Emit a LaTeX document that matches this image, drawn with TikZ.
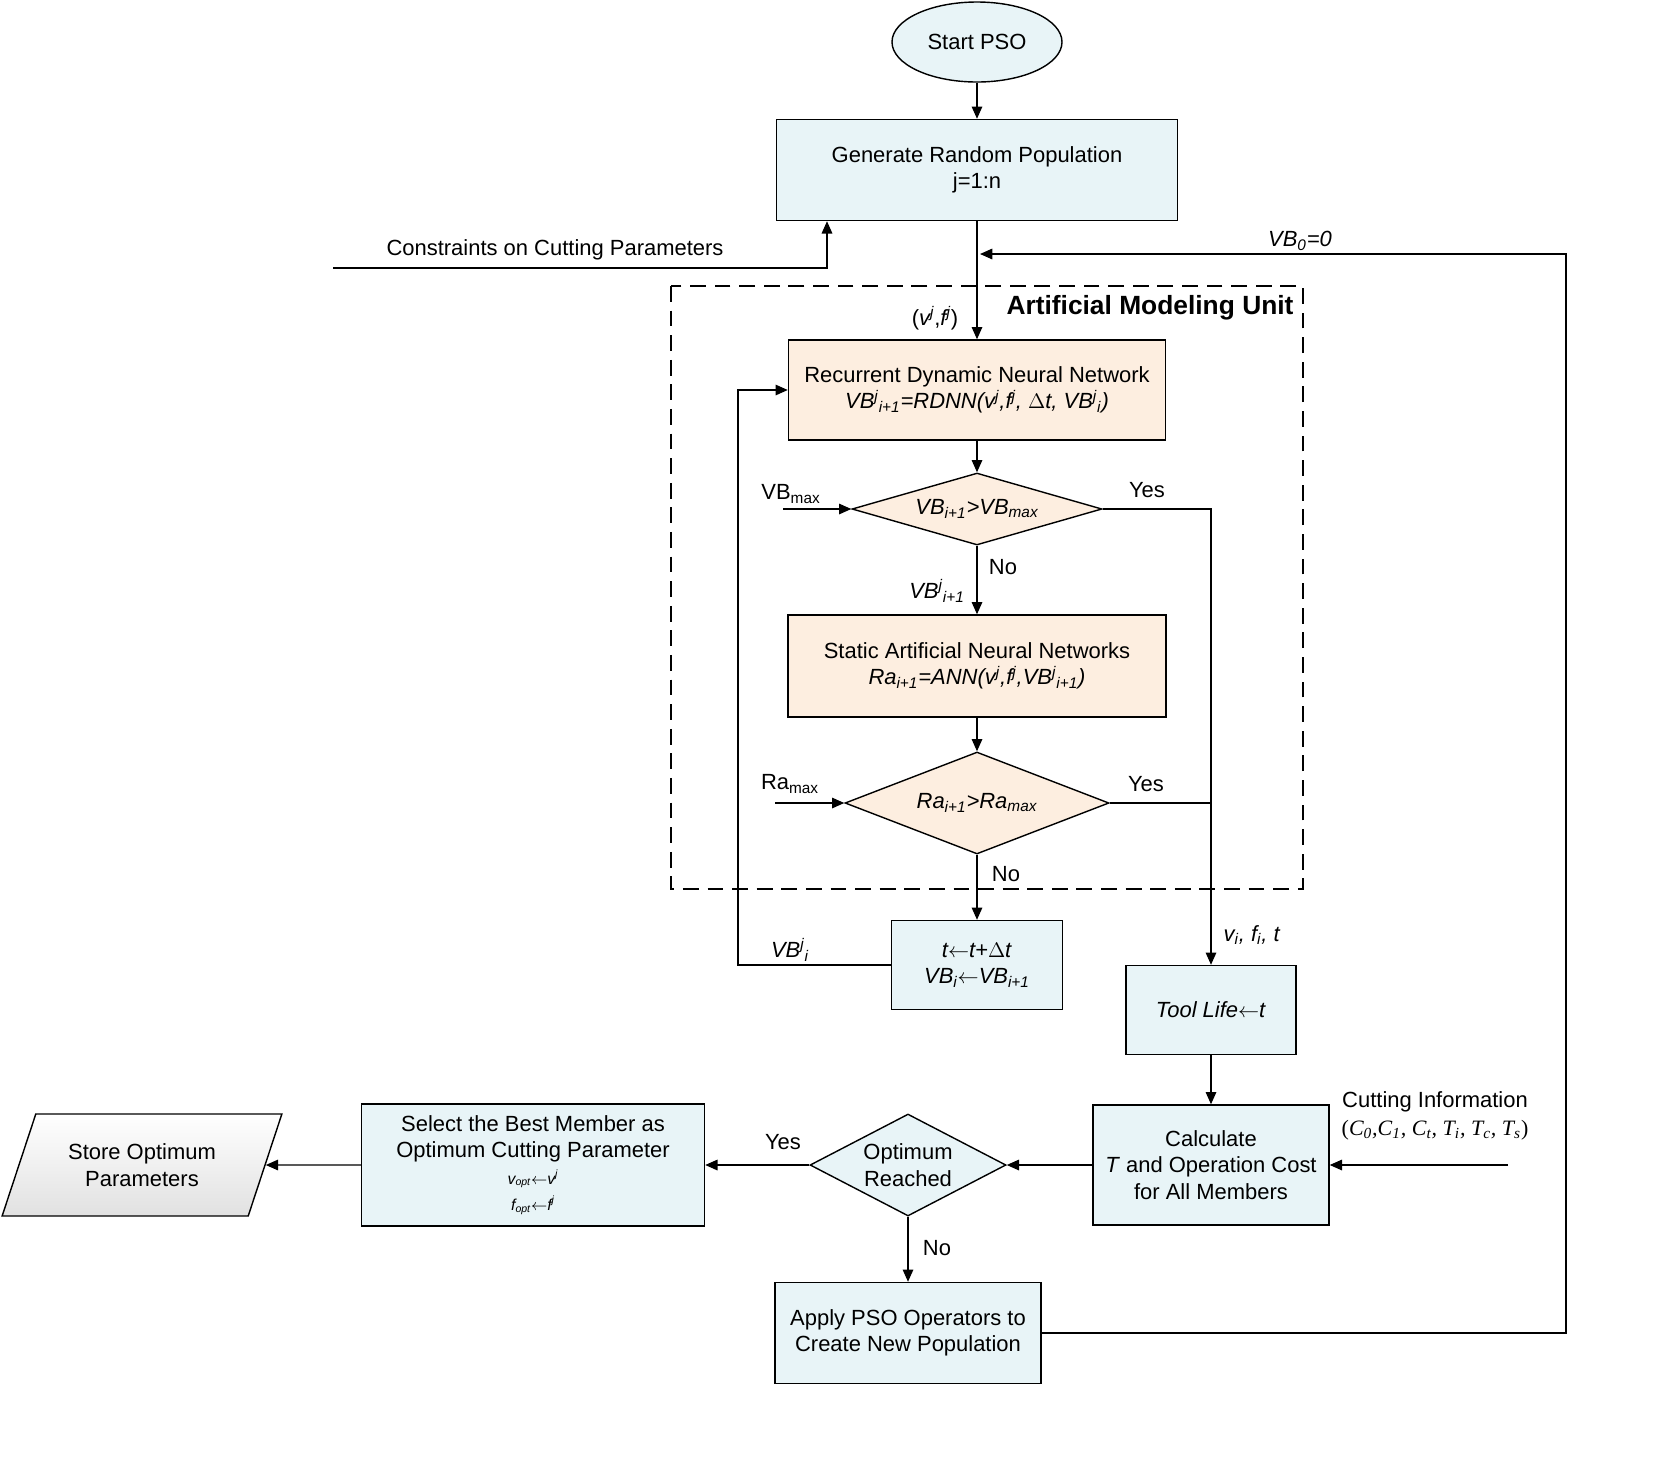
\documentclass[tikz,border=0pt]{standalone}
\usepackage{fontspec}
\setmainfont{Liberation Sans}
\newfontfamily\tms{Liberation Serif}
\usetikzlibrary{shapes.geometric,arrows.meta}

\newcommand{\lo}[1]{\textsubscript{#1}}
\newcommand{\hi}[1]{\textsuperscript{#1}}

\tikzset{
  every node/.style={font=\fontsize{12.5}{15}\selectfont},
  blk/.style={draw, thick, fill=blueF, align=center, inner sep=2pt},
  ann/.style={draw, thick, fill=orangeF, align=center, inner sep=2pt},
  dec/.style={draw, thick, diamond, aspect=2.5, inner sep=0pt, align=center},
  lbl/.style={inner sep=1pt},
  flow/.style={thick, -{Triangle[length=7pt,width=6pt]}},
  line/.style={thick}
}
\definecolor{blueF}{RGB}{232,244,247}
\definecolor{orangeF}{RGB}{253,238,224}
\definecolor{grayF}{RGB}{225,225,225}

\begin{document}
\begin{tikzpicture}[x=0.02cm, y=-0.02cm]  % one unit = one pixel of the reference
    \useasboundingbox (0,0) rectangle (1654,1465);

    % Main blocks
    \node[draw, thick, ellipse, fill=blueF, minimum width=170*0.02cm, minimum height=80*0.02cm] (start) at (977,42) {Start PSO};
    \node[blk, minimum width=401*0.02cm, minimum height=101*0.02cm] (gen) at (977,170) {Generate Random Population\\j=1:n};
    \node[ann, minimum width=377*0.02cm, minimum height=100*0.02cm] (rdnn) at (977,390) {Recurrent Dynamic Neural Network\\ \textit{VB\hi{j}\lo{i+1}=RDNN(v\hi{j},f\hi{j}, $\Delta$t, VB\hi{j}\lo{i})}};
    \node[dec, fill=orangeF, minimum width=250*0.02cm, minimum height=72*0.02cm] (vbdec) at (977,509) {\textit{VB\lo{i+1}>VB\lo{max}}};
    \node[ann, minimum width=378*0.02cm, minimum height=102*0.02cm] (sann) at (977,666) {Static Artificial Neural Networks\\ \textit{Ra\lo{i+1}=ANN(v\hi{j},f\hi{j},VB\hi{j}\lo{i+1})}};
    \node[dec, fill=orangeF, minimum width=264*0.02cm, minimum height=102*0.02cm] (radec) at (977,803) {\textit{Ra\lo{i+1}>Ra\lo{max}}};
    \node[blk, minimum width=171*0.02cm, minimum height=89*0.02cm] (tupd) at (977,965) {\textit{t$\leftarrow$t+$\Delta$t}\\ \textit{VB\lo{i}$\leftarrow$VB\lo{i+1}}};
    \node[blk, minimum width=170*0.02cm, minimum height=89*0.02cm] (tlife) at (1211,1010) {\textit{Tool Life$\leftarrow$t}};
    \node[blk, minimum width=236*0.02cm, minimum height=120*0.02cm] (calc) at (1211,1165) {Calculate\\ \textit{T} and Operation Cost\\for All Members};
    \node[dec, aspect=1.9, fill=blueF, minimum width=196*0.02cm, minimum height=102*0.02cm] (optdec) at (908,1165) {Optimum\\Reached};
    \node[blk, minimum width=343*0.02cm, minimum height=122*0.02cm] (sel) at (533,1165) {Select the Best Member as\\Optimum Cutting Parameter\\ \textit{\small v\lo{opt}$\leftarrow$v\hi{j}}\\ \textit{\small f\lo{opt}$\leftarrow$f\hi{j}}};
    \node[draw, thick, trapezium, trapezium left angle=65, trapezium right angle=115, trapezium stretches=true,
          top color=white, bottom color=grayF, align=center, minimum width=280*0.02cm, minimum height=102*0.02cm] (store) at (142,1165) {Store Optimum\\Parameters};
    \node[blk, minimum width=266*0.02cm, minimum height=101*0.02cm] (apso) at (908,1333) {Apply PSO Operators to\\Create New Population};

    % Modeling unit frame
    \draw[thick, dashed, dash pattern=on 9pt off 5pt] (671,286) rectangle (1303,889);
    \node[lbl, font=\fontsize{15}{18}\selectfont\bfseries] (amu) at (1150,308) {Artificial Modeling Unit};

    % Free ends
    \coordinate (cin) at (333,268);
    \coordinate (cup) at (827,268);
    \coordinate (vbin) at (783,509);
    \coordinate (rain) at (775,803);
    \coordinate (ciin) at (1508,1165);
    \coordinate (vbz) at (980,254);

    % Connectors
    \draw[flow] (start) -- (gen);
    \draw[flow] (gen) -- (rdnn);
    \draw[flow] (cin) -- (cup) -- (cup |- gen.south);
    \draw[flow] (apso.east) -| (1566,254) -- (vbz);
    \draw[flow] (rdnn) -- (vbdec);
    \draw[flow] (vbin) -- (vbdec.west);
    \draw[flow] (vbdec) -- (sann);
    \draw[flow] (sann) -- (radec);
    \draw[flow] (rain) -- (radec.west);
    \draw[flow] (radec) -- (tupd);
    \draw[flow] (vbdec.east) -| (tlife.north);
    \draw[line] (radec.east) -- (1211,803);
    \draw[flow] (tupd.west) -| (738,390) -- (rdnn.west);
    \draw[flow] (tlife) -- (calc);
    \draw[flow] (ciin) -- (calc.east);
    \draw[flow] (calc) -- (optdec);
    \draw[flow] (optdec) -- (sel);
    \draw[flow] (sel) -- (store);
    \draw[flow] (optdec) -- (apso);

    % Labels
    \node[lbl] at (555,250) {Constraints on Cutting Parameters};
    \node[lbl] at (1300,241) {\textit{VB\lo{0}=0}};
    \node[lbl] at (935,318) {(\textit{v\hi{j}},\textit{f\hi{j}})};
    \node[lbl] at (791,494) {VB\lo{max}};
    \node[lbl] at (1147,490) {Yes};
    \node[lbl] at (1003,567) {No};
    \node[lbl] at (937,591) {\textit{VB\hi{j}\lo{i+1}}};
    \node[lbl] at (790,784) {Ra\lo{max}};
    \node[lbl] at (1146,784) {Yes};
    \node[lbl] at (1006,874) {No};
    \node[lbl] at (790,950) {\textit{VB\hi{j}\lo{i}}};
    \node[lbl] at (1252,935) {\textit{v\lo{i}, f\lo{i}, t}};
    \node[lbl] at (1435,1102) {Cutting Information};
    \node[lbl, font=\fontsize{12.5}{15}\selectfont\tms] at (1435,1130) {(\textit{C\lo{0},C\lo{1}, C\lo{t}, T\lo{i}, T\lo{c}, T\lo{s}})};
    \node[lbl] at (783,1142) {Yes};
    \node[lbl] at (937,1248) {No};
\end{tikzpicture}
\end{document}
